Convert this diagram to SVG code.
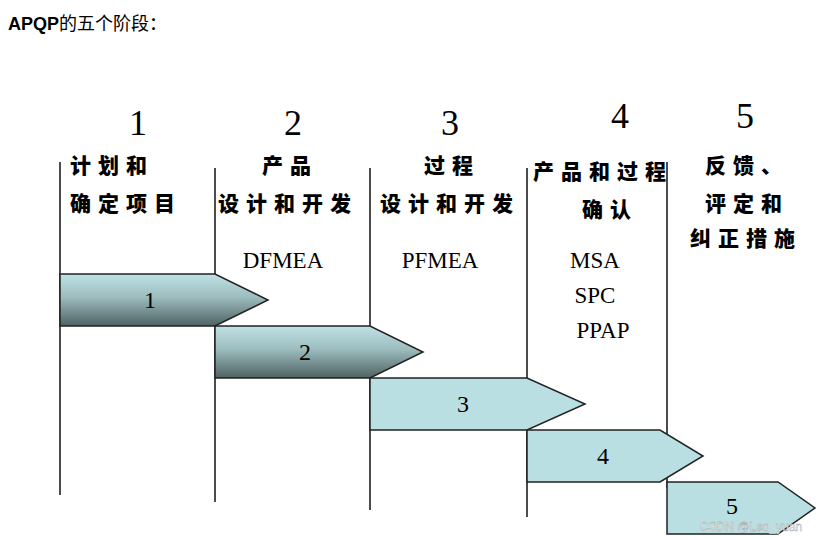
<svg xmlns="http://www.w3.org/2000/svg" width="828" height="540" viewBox="0 0 828 540">
<style>
.n{font-family:"Liberation Serif",serif;font-size:36px;text-anchor:middle}
.m{font-family:"Liberation Serif",serif;font-size:24px;text-anchor:middle}
.c{font-family:"Noto Sans CJK SC",sans-serif;font-weight:900;font-size:21px;letter-spacing:7px}
.t{font-family:"Liberation Serif",serif;font-size:23px;text-anchor:middle}
.a{fill:#b9dfe3;stroke:#222;stroke-width:1.5}
.g{fill:url(#gr);stroke:#222;stroke-width:1.5}
.l{stroke:#111;stroke-width:1.5}
</style>
<defs><linearGradient id="gr" x1="0" y1="0" x2="0" y2="1"><stop offset="0" stop-color="#bfe2e6"/><stop offset="0.45" stop-color="#9cbcbe"/><stop offset="1" stop-color="#4f6262"/></linearGradient></defs>
<rect width="828" height="540" fill="#fff"/>
<text x="8" y="30" font-family="Liberation Sans,Noto Sans CJK SC,sans-serif" font-weight="bold" font-size="18">APQP<tspan font-family="Noto Sans CJK SC,sans-serif" font-weight="normal">的五个阶段：</tspan></text>
<g id="connectors">
<line class="l" x1="60" y1="162" x2="60" y2="495"/>
<line class="l" x1="215" y1="168" x2="215" y2="502"/>
<line class="l" x1="370" y1="168" x2="370" y2="510"/>
<line class="l" x1="527" y1="168" x2="527" y2="517"/>
<line class="l" x1="667" y1="162" x2="667" y2="488"/>
</g>
<g id="headers">
<text class="n" x="138" y="135">1</text><text class="n" x="293" y="135">2</text><text class="n" x="450" y="135">3</text><text class="n" x="620" y="128">4</text><text class="n" x="745" y="128">5</text>
<text class="c" x="70" y="173">计划和</text><text class="c" x="70" y="211">确定项目</text>
<text class="c" x="262" y="173">产品</text><text class="c" x="218" y="211">设计和开发</text>
<text class="c" x="424" y="173">过程</text><text class="c" x="380" y="211">设计和开发</text>
<text class="c" x="533" y="179">产品和过程</text><text class="c" x="582" y="217">确认</text>
<text class="c" x="705" y="173">反馈、</text><text class="c" x="705" y="211">评定和</text><text class="c" x="690" y="246">纠正措施</text>
<text class="t" x="283" y="268">DFMEA</text><text class="t" x="440" y="268">PFMEA</text>
<text class="t" x="595" y="268">MSA</text><text class="t" x="595" y="303">SPC</text><text class="t" x="603" y="338">PPAP</text>
</g>
<g id="s1"><polygon class="g" points="60,274 215,274 268,300 215,326 60,326"/><text class="m" x="150" y="308">1</text></g>
<g id="s2"><polygon class="g" points="215,326 370,326 423,352 370,378 215,378"/><text class="m" x="305" y="360">2</text></g>
<g id="s3"><polygon class="a" points="370,378 527,378 585,404 527,430 370,430"/><text class="m" x="463" y="412">3</text></g>
<g id="s4"><polygon class="a" points="527,430 660,430 703,456 660,482 527,482"/><text class="m" x="603" y="464">4</text></g>
<g id="s5"><polygon class="a" points="667,482 778,482 815,508 778,534 667,534"/><text class="m" x="732" y="514">5</text></g>
<text x="700" y="531" font-family="Liberation Sans,sans-serif" font-size="12" fill="#fff" stroke="#999" stroke-width="0.4">CSDN @Leo_yuan</text>
</svg>
